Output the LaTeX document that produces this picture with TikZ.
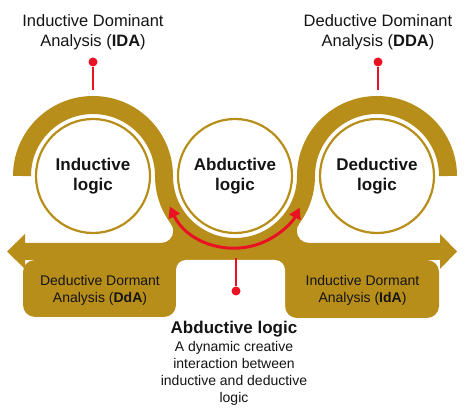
\documentclass[tikz,border=0pt]{standalone}
\usepackage{fontspec}
\setmainfont{Liberation Sans}
\usetikzlibrary{arrows.meta}
\definecolor{gold}{RGB}{184,142,26}
\definecolor{pinred}{RGB}{232,18,36}
\definecolor{ink}{RGB}{20,20,20}
\begin{document}
\begin{tikzpicture}[x=1pt,y=1pt,
  logiccircle/.style={circle,draw=gold,line width=2.2pt,fill=white,minimum size=114pt,inner sep=0pt,align=center,font=\fontsize{17}{20}\selectfont\bfseries,text=ink},
  toplabel/.style={align=center,font=\fontsize{16.5}{20}\selectfont,text=ink},
  dormant/.style={align=center,font=\fontsize{14}{17}\selectfont,text=ink},
  pindot/.style={circle,fill=pinred,inner sep=0pt,minimum size=9pt},
  pinline/.style={draw=pinred,line width=2.5pt},
  goldband/.style={draw=gold,line width=18pt},
  redarc/.style={draw=pinred,line width=3pt,{Triangle[length=11pt,width=12pt]}-{Triangle[length=11pt,width=12pt]}},
]
\useasboundingbox (0,0) rectangle (474,420);
% top pins
\node[pindot] (pida) at (93,358) {};
\coordinate (bida) at (93,330);
\draw[pinline] (pida) -- (bida);
\node[pindot] (pdda) at (378,358) {};
\coordinate (bdda) at (378,330);
\draw[pinline] (pdda) -- (bdda);
% S band
\draw[goldband] (22,244) arc[start angle=180,end angle=0,radius=71]
  arc[start angle=180,end angle=360,radius=71]
  arc[start angle=180,end angle=0,radius=71];
% double arrow bar, joining strip and dormant boxes as one shape
\fill[gold] (7,168.5) -- (25,186) -- (25,177) -- (440,177) -- (440,186) -- (457,168.5)
  -- (440,151) -- (440,160) -- (25,160) -- (25,151) -- cycle
  (35,146) rectangle (427,163)
  [rounded corners=12pt] (23,103) rectangle (176,160)
  (285,102) rectangle (439,160);
% fillets between middle arc and bar
\fill[gold] (161.25,177) arc[start angle=-90,end angle=36.7,radius=12] -- (200,177) -- cycle;
\fill[gold] (308.75,177) arc[start angle=270,end angle=143.3,radius=12] -- (270,177) -- cycle;
\fill[white,rounded corners=10pt] (176,60) rectangle (285,160);
% bottom pin
\node[pindot] (pabd) at (236,129) {};
\coordinate (babd) at (236,162);
\draw[pinline] (babd) -- (pabd);
% circles
\node[logiccircle] (ind) at (93,244) {Inductive\\logic};
\node[logiccircle] (abd) at (235,244) {Abductive\\logic};
\node[logiccircle] (ded) at (377,244) {Deductive\\logic};
% red double arc
\draw[redarc] ([shift={(205:72)}]abd.center) arc[start angle=205,end angle=334,radius=72];
% labels
\node[toplabel] (idalabel) at (93,387.5) {Inductive Dominant\\Analysis (\textbf{IDA})};
\node[toplabel] (ddalabel) at (378,387.5) {Deductive Dominant\\Analysis (\textbf{DDA})};
\node[dormant] (ddatext) at (100,129.5) {Deductive Dormant\\Analysis (\textbf{DdA})};
\node[dormant] (idatext) at (362.5,129.5) {Inductive Dormant\\Analysis (\textbf{IdA})};
\node[align=center,font=\fontsize{14}{17}\selectfont,text=ink] (abdlabel) at (234,56.25)
  {{\fontsize{17}{18}\selectfont\bfseries Abductive logic}\\[1pt]A dynamic creative\\interaction between\\inductive and deductive\\logic};
\end{tikzpicture}
\end{document}
